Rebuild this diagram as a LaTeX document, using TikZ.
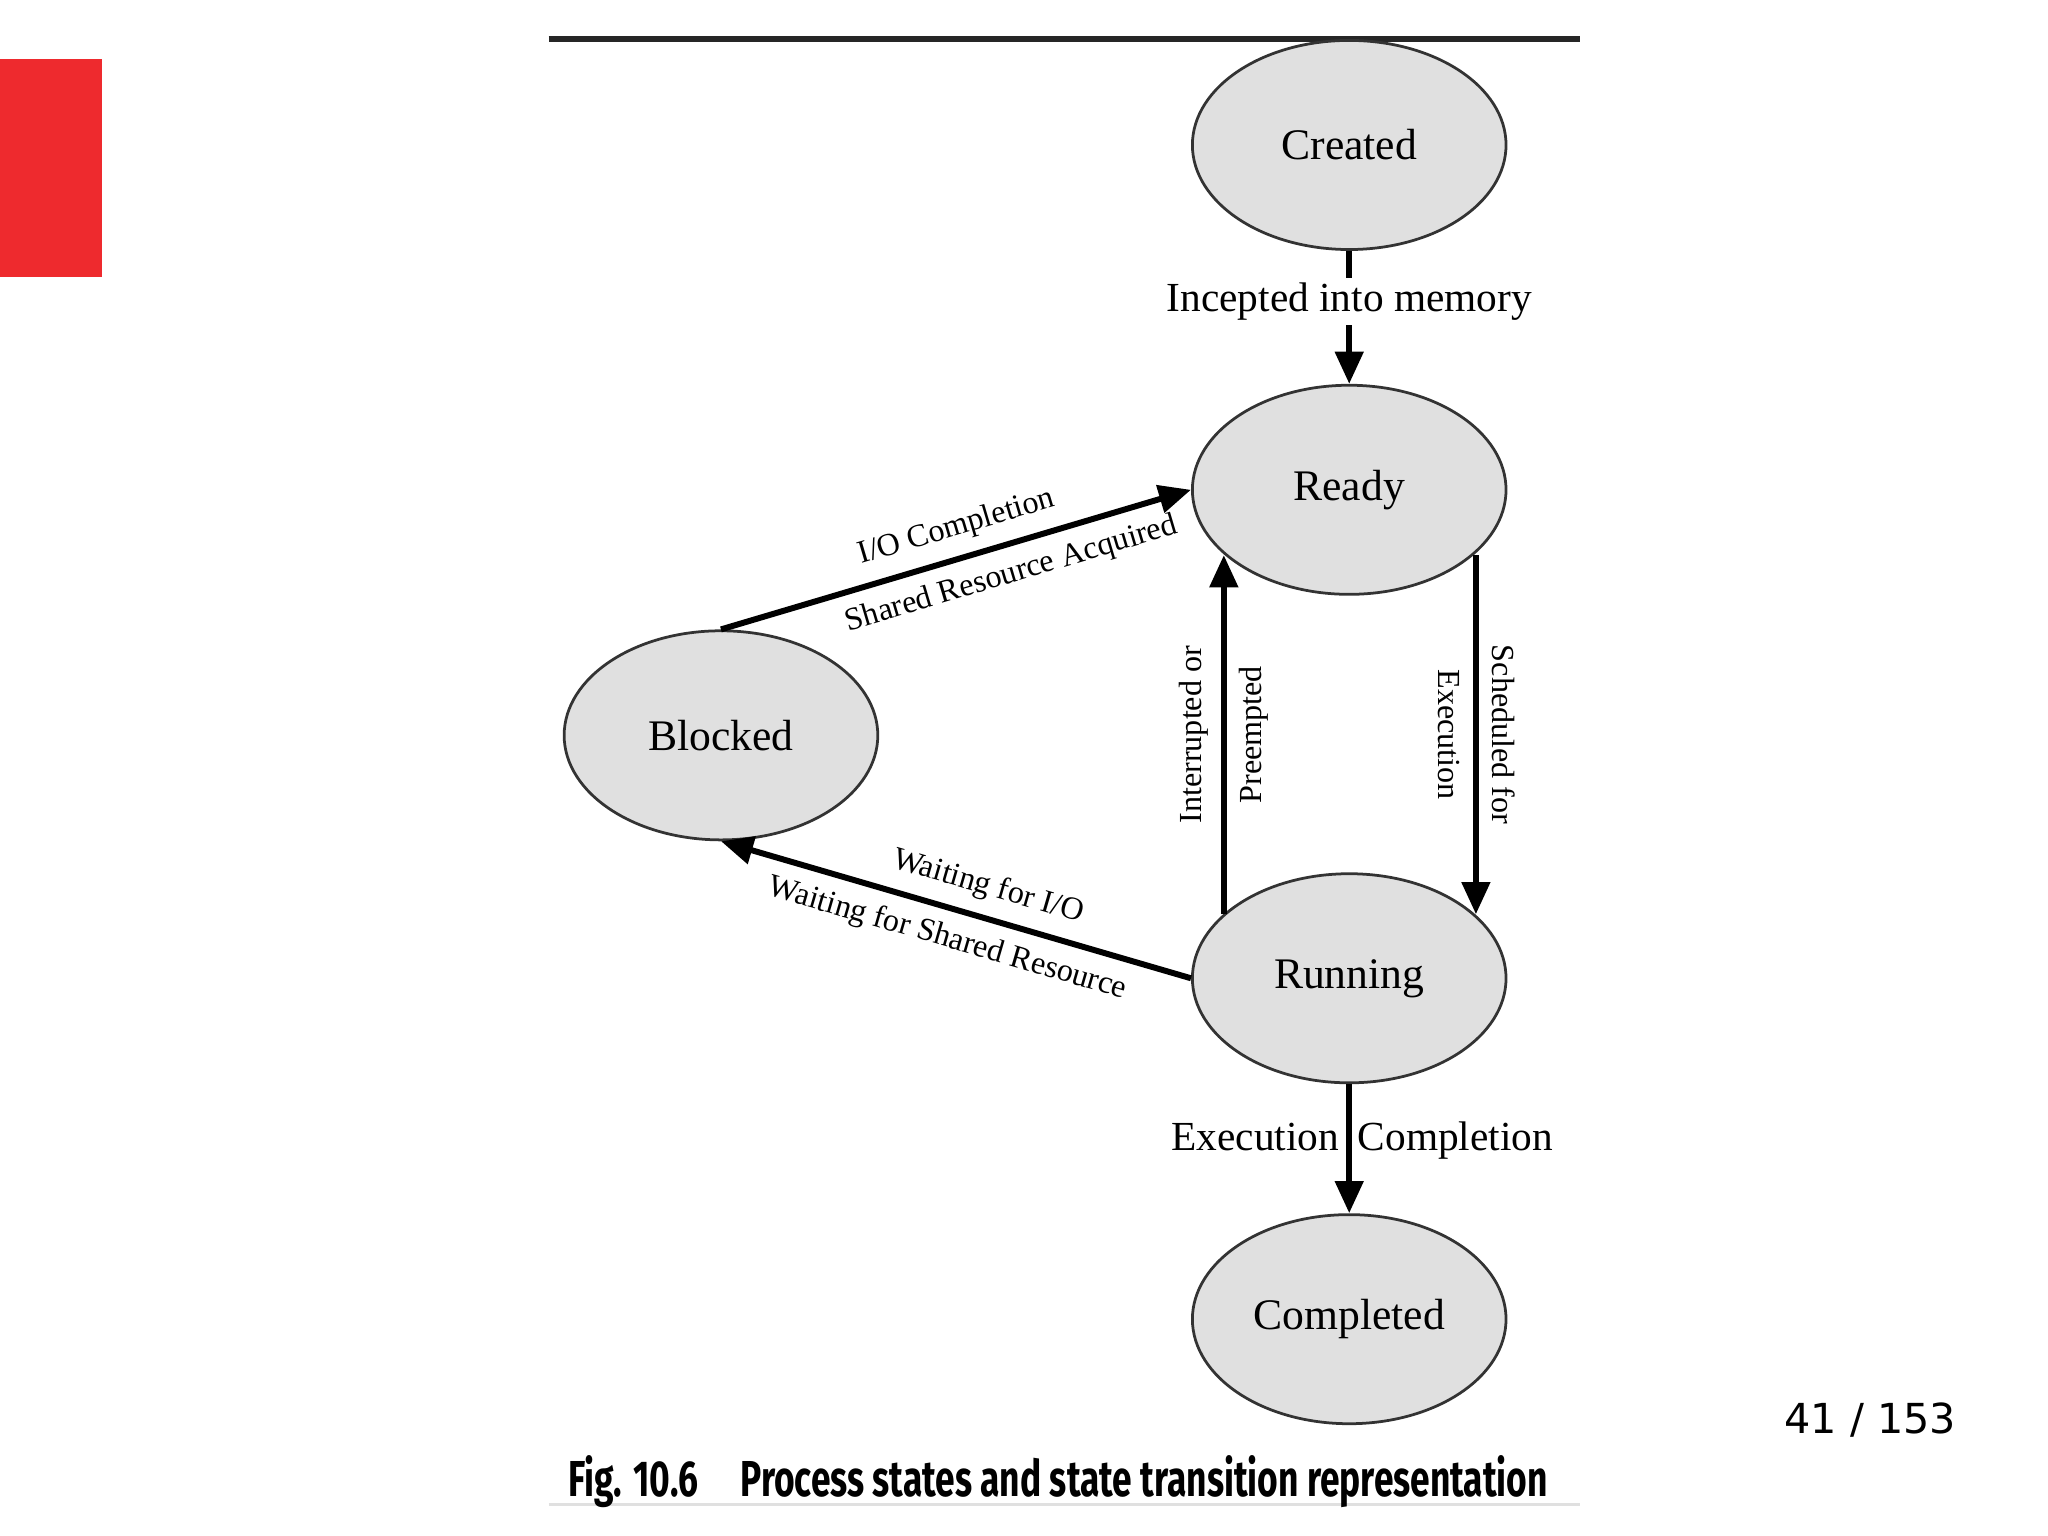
\documentclass[tikz,border=0pt]{standalone}
\usepackage{fontspec}
\setmainfont{Liberation Serif}
\newfontfamily\capfont{Fira Sans}
\newfontfamily\numfont{DejaVu Sans}
\usetikzlibrary{shapes.geometric,arrows.meta}
\begin{document}
\begin{tikzpicture}[x=0.01cm,y=-0.01cm,
  st/.style={ellipse,draw=black!80,line width=0.6pt,fill=black!12,minimum width=2.4cm,minimum height=1.6cm,inner sep=0pt,font=\fontsize{9.5}{11}\selectfont},
  tr/.style={line width=1.3pt,-{Triangle[length=7pt,width=6pt]}},
  lb/.style={font=\fontsize{9}{11}\selectfont,fill=white,inner sep=1pt},
  sl/.style={font=\fontsize{7}{8}\selectfont,inner sep=2.8pt}]
\useasboundingbox (0,0) rectangle (1568,1176);
\fill[fill={rgb,255:red,238;green,42;blue,46}] (0,45) rectangle (78,212);
\draw[line width=1.2pt,black!85] (420,30) -- (1210,30);
\draw[line width=0.6pt,black!12] (420,1152) -- (1210,1152);
\node[st] (created) at (1033,111) {Created};
\node[st] (ready) at (1033,375) {Ready};
\node[st] (blocked) at (552,563) {Blocked};
\node[st] (running) at (1033,749) {Running};
\node[st] (completed) at (1033,1010) {Completed};
\draw[tr] (created) -- node[lb,pos=0.38] (l1) {Incepted into memory} (ready);
\draw[tr] (running) -- (completed);
\node[font=\fontsize{9}{11}\selectfont,inner sep=1pt] (l2) at (1043,873) {Execution\hspace{0.45em}Completion};
\draw[tr] (blocked.north) -- node[sl,sloped,above,pos=0.52] {I/O Completion} node[sl,sloped,below,pos=0.6] {Shared Resource Acquired} (ready.west);
\draw[tr] (running.west) -- node[sl,sloped,above,pos=0.45] {Waiting for I/O} node[sl,sloped,below,pos=0.5] {Waiting for Shared Resource} (blocked.south);
\coordinate (rs) at (1130,425); \coordinate (re) at (1130,700);
\coordinate (us) at (937,700); \coordinate (ue) at (937,425);
\draw[tr] (rs) -- node[sl,rotate=-90,above] {Scheduled for} node[sl,rotate=-90,below] {Execution} (re);
\draw[tr] (us) -- node[sl,rotate=90,above] {Interrupted or} node[sl,rotate=90,below] {Preempted} (ue);
\node[font=\capfont\bfseries\fontsize{11}{13}\selectfont,xscale=0.7] (cap) at (810,1134) {Fig. 10.6\hspace{1.2em}Process states and state transition representation};
\node[font=\numfont\fontsize{9}{11}\selectfont] (pg) at (1432,1087) {41 / 153};
\end{tikzpicture}
\end{document}
